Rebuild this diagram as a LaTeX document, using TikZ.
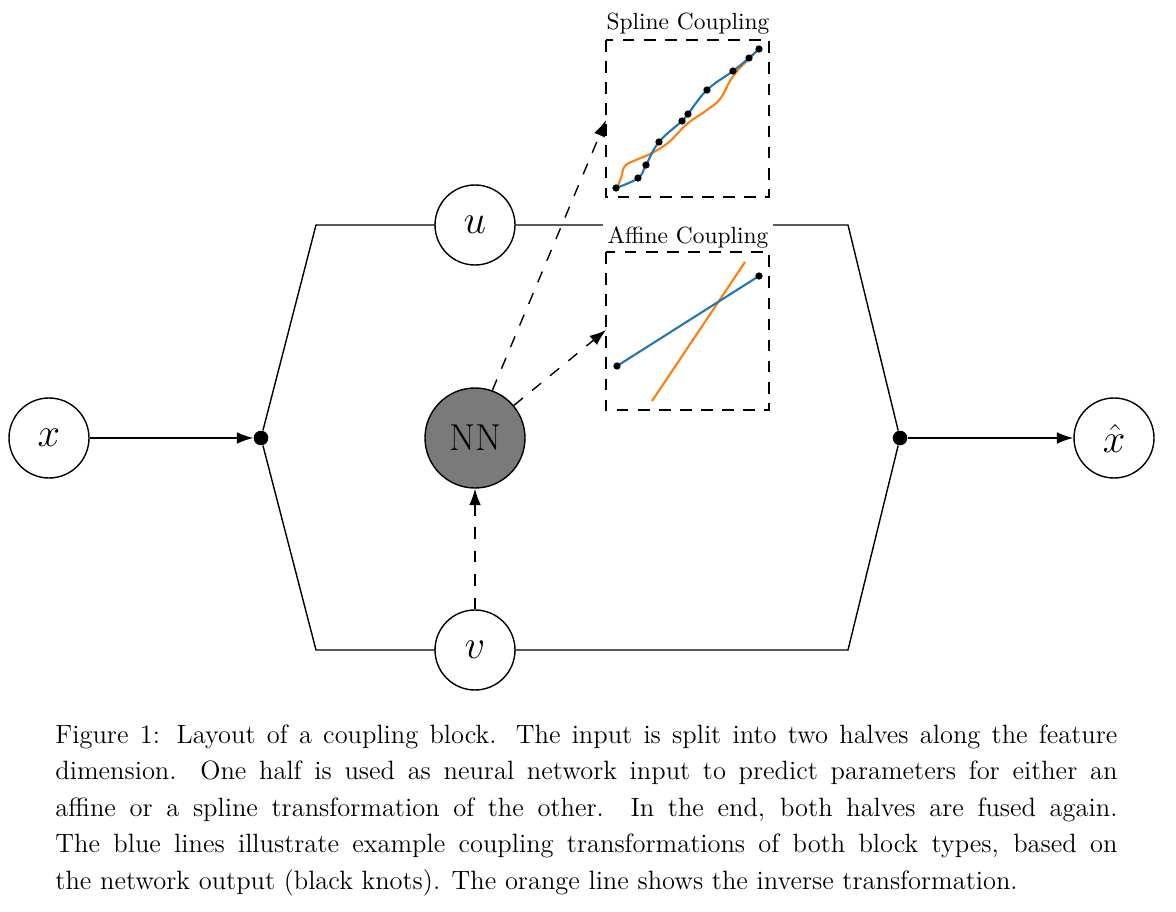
\documentclass[tikz,border=0pt]{standalone}
\usetikzlibrary{arrows.meta}
\definecolor{mplblue}{HTML}{1F77B4}
\definecolor{mplorange}{HTML}{FF7F0E}
\begin{document}
\begin{tikzpicture}[x=0.015cm,y=-0.015cm,
  circ/.style={circle,draw,line width=0.6pt,minimum size=80*0.015cm,inner sep=0pt,fill=white,font=\fontsize{17}{17}\selectfont},
  ln/.style={line width=0.6pt},
  arr/.style={ln,-{Latex[length=7pt,width=5pt]}},
  darr/.style={arr,dash pattern=on 5pt off 5pt},
  box/.style={draw,dash pattern=on 5pt off 4pt,line width=0.6pt},
  knot/.style={circle,fill,inner sep=1.1pt},
  lbl/.style={fill=white,inner sep=2pt,font=\fontsize{10}{10}\selectfont}]
\useasboundingbox (0,0) rectangle (1176,912);
% main paths
\node[circle,fill,inner sep=2.2pt] (s) at (261,438) {};
\node[circle,fill,inner sep=2.2pt] (m) at (900,438) {};
\coordinate (ul) at (316,225); \coordinate (ur) at (848,225);
\coordinate (vl) at (316,650); \coordinate (vr) at (848,650);
\draw[ln] (s) -- (ul) -- (ur) -- (m) -- (vr) -- (vl) -- (s);
\node[circ] (x) at (49,438) {$x$};
\node[circ] (xh) at (1114,438) {$\hat{x}$};
\node[circ] (u) at (475,225) {$u$};
\node[circ] (v) at (475,650) {$v$};
\node[circ,minimum size=100*0.015cm,fill=black!52,font=\fontsize{16}{16}\selectfont] (nn) at (475,438) {NN};
\draw[arr] (x) -- (s);
\draw[arr] (m) -- (xh);
\draw[darr] (v) -- (nn);
% boxes
\node[lbl] (st) at (688,24) {Spline Coupling};
\node[lbl] (at) at (688,238) {Affine Coupling};
\draw[box] (606,40) rectangle (769,197);
\draw[box] (606,252) rectangle (769,410);
\coordinate (sa) at (606,120); \coordinate (aa) at (606,330);
\draw[darr] (nn.70) -- (sa);
\draw[darr] (nn.40) -- (aa);
% affine
\draw[mplorange,line width=0.9pt] (652,401) -- (745,262);
\draw[mplblue,line width=0.9pt] (617,366) -- (759,276);
\node[knot] at (617,366) {}; \node[knot] at (759,276) {};
% spline
\draw[mplorange,line width=0.9pt] plot[smooth,tension=0.7] coordinates {(617,188) (621,178) (625,166) (636,160) (652,153) (669,142) (687,124) (707,110) (720,99) (730,81) (738,70) (748,60) (759,49)};
\draw[mplblue,line width=0.9pt] plot[smooth,tension=0.7] coordinates {(616,188) (638,178) (646,165) (659,142) (682,121) (688,114) (707,90) (733,71) (749,58) (759,49)};
\foreach \p in {(616,188),(638,178),(646,165),(659,142),(682,121),(688,114),(707,90),(733,71),(749,58),(759,49)} \node[knot] at \p {};
% caption
\node[anchor=north west,inner sep=0pt,text width=1062*0.015cm,align=justify,font=\fontsize{11.3}{15.6}\selectfont] (cap) at (55,724) {Figure 1: Layout of a coupling block. The input is split into two halves along the feature\linebreak dimension. One half is used as neural network input to predict parameters for either an\linebreak affine or a spline transformation of the other. In the end, both halves are fused again.\linebreak The blue lines illustrate example coupling transformations of both block types, based on\linebreak the network output (black knots). The orange line shows the inverse transformation.};
\end{tikzpicture}
\end{document}
